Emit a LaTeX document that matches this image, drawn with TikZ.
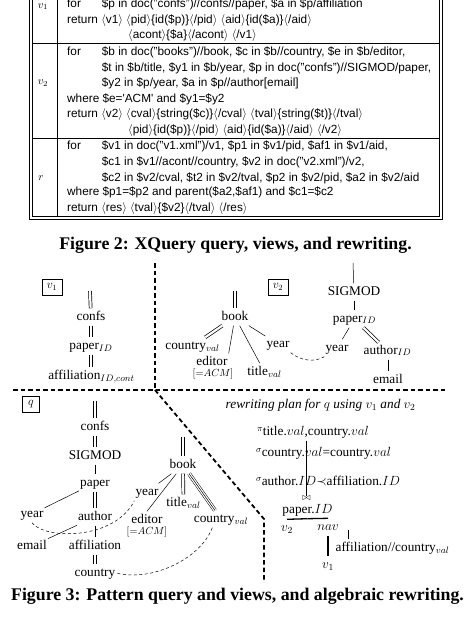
\RequirePackage{fix-cm}
\documentclass[tikz,border=0pt]{standalone}
\usepackage{amssymb}
\usepackage{amsmath}
\usepackage{fontspec}
\setmainfont{Liberation Serif}
\setsansfont{Liberation Sans}

\newcommand{\tfont}{\fontsize{13.3}{15}\selectfont}
\newcommand{\qfont}{\sffamily\fontsize{11.8}{13}\selectfont}
\newcommand{\angtag}[1]{$\langle$#1$\rangle$}

\begin{document}
\begin{tikzpicture}[x=1pt,y=-1pt]

%
% Styles
%
\tikzstyle{tnode}   = [font=\tfont,inner xsep=1pt,inner ysep=2.5pt,text height=9pt,text depth=3pt]
\tikzstyle{small}   = [font=\fontsize{10.3}{12}\selectfont,inner sep=1pt]
\tikzstyle{vbox}    = [draw,line width=0.8pt,minimum width=20pt,minimum height=16pt,inner sep=1pt,font=\fontsize{12}{14}\selectfont]
\tikzstyle{edge}    = [line width=0.5pt]
\tikzstyle{dedge}   = [double,double distance=2.2pt,line width=0.7pt]
\tikzstyle{tedge}   = [double,double distance=3pt,line width=0.5pt]
\tikzstyle{link}    = [line width=0.5pt,dash pattern=on 3pt off 2.5pt]
\tikzstyle{plan}    = [line width=1.3pt]
\tikzstyle{divider} = [line width=1.8pt,dash pattern=on 4.5pt off 3pt]
\tikzstyle{rule}    = [line width=0.8pt]
\tikzstyle{qline}   = [anchor=base west,inner sep=0pt,font=\qfont]

\useasboundingbox (0,0) rectangle (474,634);

%
% Figure 2: the table
%
\draw[rule] (29,0) -- (29,219.5) -- (442.5,219.5) -- (442.5,0);
\draw[rule] (32.5,0) -- (32.5,216) -- (439,216) -- (439,0);
\draw[rule] (57,0) -- (57,216);
\draw[rule] (32.5,43) -- (439,43);
\draw[rule] (32.5,138) -- (439,138);

\node[font=\fontsize{11}{12}\selectfont] (lv1) at (43,6.5) {$v_1$};
\node[font=\fontsize{11}{12}\selectfont] (lv2) at (43,83)  {$v_2$};
\node[font=\fontsize{11}{12}\selectfont] (lr)  at (41,178) {$r$};

% v1
\node[qline] (a1) at (67,8)      {for};
\node[qline] (a2) at (101.7,8)   {\$p in doc("confs")//confs//paper, \$a in \$p/affiliation};
\node[qline] (a3) at (67,23.5)   {return \angtag{v1} \angtag{pid}\{id(\$p)\}\angtag{/pid} \angtag{aid}\{id(\$a)\}\angtag{/aid}};
\node[qline] (a4) at (128,38.5)  {\angtag{acont}\{\$a\}\angtag{/acont} \angtag{/v1}};

% v2
\node[qline] (b1) at (67,55.2)    {for};
\node[qline] (b2) at (101.7,55.2) {\$b in doc("books")//book, \$c in \$b//country, \$e in \$b/editor,};
\node[qline] (b3) at (101.7,71.8) {\$t in \$b/title, \$y1 in \$b/year, \$p in doc("confs")//SIGMOD/paper,};
\node[qline] (b4) at (101.7,86.8) {\$y2 in \$p/year, \$a in \$p//author[email]};
\node[qline] (b5) at (67,102.5)   {where \$e=\textquotesingle ACM\textquotesingle{} and \$y1=\$y2};
\node[qline] (b6) at (67,117.8)   {return \angtag{v2} \angtag{cval}\{string(\$c)\}\angtag{/cval} \angtag{tval}\{string(\$t)\}\angtag{/tval}};
\node[qline] (b7) at (128,133.5)  {\angtag{pid}\{id(\$p)\}\angtag{/pid} \angtag{aid}\{id(\$a)\}\angtag{/aid} \angtag{/v2}};

% r
\node[qline] (c1) at (67,149.5)    {for};
\node[qline] (c2) at (101.7,149.5) {\$v1 in doc("v1.xml")/v1, \$p1 in \$v1/pid, \$af1 in \$v1/aid,};
\node[qline] (c3) at (101.7,165.2) {\$c1 in \$v1//acont//country, \$v2 in doc("v2.xml")/v2,};
\node[qline] (c4) at (101.7,181.2) {\$c2 in \$v2/cval, \$t2 in \$v2/tval, \$p2 in \$v2/pid, \$a2 in \$v2/aid};
\node[qline] (c5) at (67,195.8)    {where \$p1=\$p2 and parent(\$a2,\$af1) and \$c1=\$c2};
\node[qline] (c6) at (67,211.8)    {return \angtag{res} \angtag{tval}\{\$v2\}\angtag{/tval} \angtag{/res}};

\node[font=\bfseries\fontsize{17.8}{20}\selectfont] (cap2) at (235.5,245) {Figure 2: XQuery query, views, and rewriting.};

%
% Figure 3: dividers
%
\draw[divider] (155,263) -- (155,390);
\draw[divider] (13,390) -- (448,390);
\draw[divider] (155,390) -- (264,519) -- (264,580);

% view v1
\node[vbox] (boxv1) at (52,287) {$v_1$};
\coordinate (topv1) at (90,291);
\node[tnode] (confs1) at (91,317)  {confs};
\node[tnode] (paper1) at (91,346)  {paper$_{ID}$};
\node[tnode] (aff1)   at (91.5,376) {affiliation$_{ID,cont}$};
\draw[dedge] (topv1) -- (confs1);
\draw[dedge] (confs1) -- (confs1 |- paper1.north);
\draw[dedge] (confs1 |- paper1.south) -- (confs1 |- aff1.north);

% view v2
\node[vbox] (boxv2) at (278,287) {$v_2$};
\coordinate (topbook) at (235,291);
\node[tnode] (book2)    at (235,317)   {book};
\node[tnode] (country2) at (192.5,346) {country$_{val}$};
\node[tnode] (editor2)  at (212,362)   {editor};
\node[small] (acm2)     at (213,374)   {$[{=}ACM]$};
\node[tnode] (title2)   at (264.5,372) {title$_{val}$};
\node[tnode] (year2)    at (278,344)   {year};
\draw[dedge] (topbook) -- (book2);
\draw[dedge] (book2) -- (country2);
\draw[edge]  (book2) -- (editor2.north east);
\draw[edge]  (book2) -- (title2);
\draw[edge]  (book2) -- (year2);

\coordinate (topsig) at (353,263);
\node[tnode] (sigmod2) at (354,292)   {SIGMOD};
\node[tnode] (paper2)  at (354.5,319) {paper$_{ID}$};
\node[tnode] (pyear2)  at (337,348)   {year};
\node[tnode] (author2) at (387.5,351) {author$_{ID}$};
\node[tnode] (email2)  at (388,380)   {email};
\draw[edge]  (topsig) -- (sigmod2);
\draw[edge]  (sigmod2) -- (sigmod2 |- paper2.north);
\draw[edge]  (paper2) -- (pyear2);
\draw[dedge] (paper2) -- (author2);
\draw[edge]  (email2 |- author2.south) -- (email2);
\draw[link]  (year2.south east) .. controls +(10,8) and +(-10,6) .. (pyear2.south west);

% query q
\node[vbox,minimum width=17pt] (boxq) at (31,404) {$q$};
\coordinate (topq) at (95,401);
\node[tnode] (confsq)   at (95,427) {confs};
\node[tnode] (sigmodq)  at (95,456) {SIGMOD};
\node[tnode] (paperq)   at (95,483) {paper};
\node[tnode] (yearq)    at (32,514) {year};
\node[tnode] (authorq)  at (95,517) {author};
\node[tnode] (emailq)   at (32,546) {email};
\node[tnode] (affq)     at (95,546) {affiliation};
\node[tnode] (countryq) at (95,573) {country};
\draw[dedge] (topq) -- (confsq);
\draw[dedge] (confsq) -- (sigmodq);
\draw[edge]  (sigmodq) -- (paperq);
\draw[dedge] (paperq) -- (authorq);
\draw[edge]  (paperq) -- (yearq);
\draw[edge]  (authorq) -- (emailq);
\draw[edge]  (authorq) -- (affq);
\draw[dedge] (affq) -- (countryq);

\coordinate (topbookq) at (183,437);
\node[tnode] (bookq)     at (183,465)   {book};
\node[tnode] (byearq)    at (147,492)   {year};
\node[tnode] (editorq)   at (147,520)   {editor};
\node[small] (acmq)      at (147,532)   {$[{=}ACM]$};
\node[tnode] (titleq)    at (183.5,503) {title$_{val}$};
\node[tnode] (bcountryq) at (221,519)   {country$_{val}$};
\draw[dedge] (topbookq) -- (bookq);
\draw[edge]  (bookq) -- (byearq);
\draw[edge]  (bookq) -- (editorq.north);
\draw[dedge] (bookq) -- (titleq);
\draw[tedge] (bookq) -- (bcountryq);
\draw[edge]  (bookq) -- (bcountryq);
\draw[link]  (yearq.south) .. controls (45,540) and (115,540) .. (byearq.south west);
\draw[link]  (bcountryq.225) .. controls (200,560) and (150,582) .. (countryq.east);

% rewriting plan
\node[tnode,font=\tfont\itshape] (plantitle) at (320.5,405) {rewriting plan for $q$ using $v_1$ and $v_2$};
\node[tnode,anchor=west] (proj)  at (256,432) {\raisebox{4pt}{\fontsize{9}{10}\selectfont$\pi$}title.$val$,country.$val$};
\node[tnode,anchor=west] (sel1)  at (255,453) {\raisebox{4pt}{\fontsize{9}{10}\selectfont$\sigma$}country.$val$=country.$val$};
\node[tnode,anchor=west] (sel2)  at (255,482) {\raisebox{4pt}{\fontsize{9}{10}\selectfont$\sigma$}author.$ID$$\prec$affiliation.$ID$};
\node[font=\fontsize{10}{11}\selectfont,inner sep=0pt] (join) at (306.5,498.5) {$\bowtie$};
\node[tnode] (paperp) at (307.5,510) {paper.$ID$};
\node[tnode] (v2p)    at (287,528)   {$v_2$};
\node[tnode] (navp)   at (328,527)   {$nav$};
\node[tnode] (affp)   at (392.5,548) {affiliation//country$_{val}$};
\node[tnode] (v1p)    at (328,565)   {$v_1$};
\draw[plan] (join |- proj.south) -- (join.north);
\draw[plan] (paperp.south) -- (v2p.north);
\draw[plan] (paperp.south) -- (navp.north);
\draw[plan] (navp) -- (v1p);
\draw[edge] ([xshift=14pt]affp.north west) -- ([xshift=14pt,yshift=9pt]affp.north west);

\node[font=\bfseries\fontsize{17.8}{20}\selectfont] (cap3) at (237.5,596) {Figure 3: Pattern query and views, and algebraic rewriting.};

\end{tikzpicture}
\end{document}
